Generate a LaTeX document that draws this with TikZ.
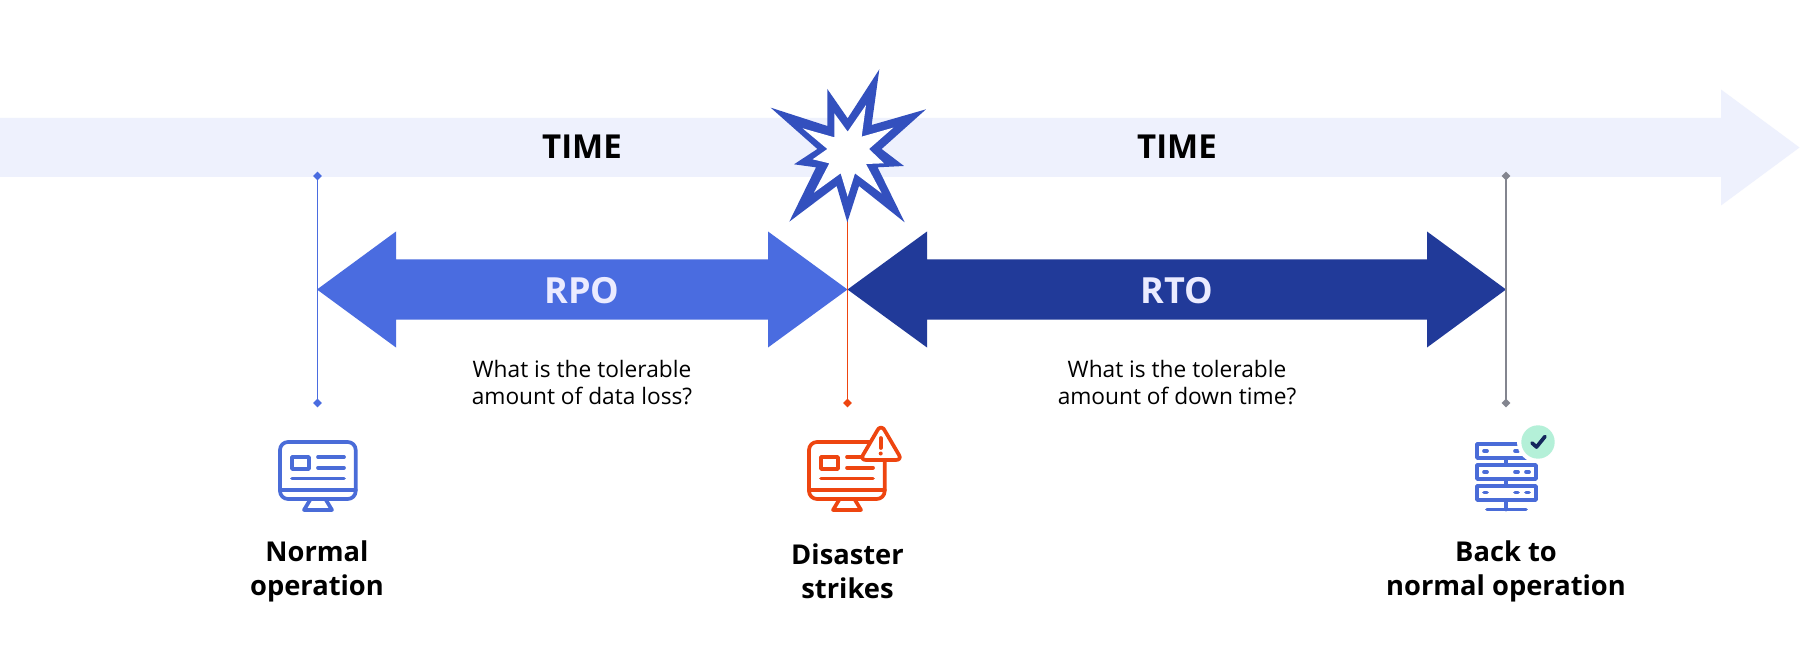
\documentclass[tikz,border=0pt]{standalone}
\usepackage{fontspec}
\setmainfont{Open Sans}
\usetikzlibrary{shapes.geometric}
\definecolor{band}{HTML}{EEF1FD}
\definecolor{rpo}{HTML}{4A6CE0}
\definecolor{rto}{HTML}{213A99}
\definecolor{burst}{HTML}{3350BE}
\definecolor{alert}{HTML}{EE4510}
\definecolor{iconblue}{HTML}{4A6CD8}
\definecolor{greyline}{HTML}{83858F}
\definecolor{okgreen}{HTML}{B4F0D8}
\definecolor{oknavy}{HTML}{14265C}
\tikzset{
  timelabel/.style={font=\fontsize{33}{36}\selectfont\bfseries,text=black,inner sep=0pt},
  arrowlabel/.style={font=\fontsize{36}{40}\selectfont\bfseries,text=white!92!blue,inner sep=0pt},
  question/.style={font=\fontsize{22.7}{27}\selectfont,text=black,align=center,inner sep=0pt},
  caption/.style={font=\fontsize{27.3}{34}\selectfont\bfseries,text=black,align=center,inner sep=0pt},
  tick/.style={diamond,fill=#1,minimum size=9pt,inner sep=0pt},
  iconline/.style={line width=3.7pt,line cap=round,line join=round,fill=none},
}
\newcommand{\monitoricon}[2]{%
  \begin{scope}[xshift=#1pt,iconline,draw=#2]
    \draw[rounded corners=8pt] (280,442) rectangle (355.7,499);
    \draw (280,490) -- (355.7,490);
    \draw (292,457) rectangle (309,469);
    \draw (318,457) -- (344,457);
    \draw (318,467.7) -- (344,467.7);
    \draw (292,478.5) -- (344,478.5);
    \draw (310,500) -- (304,510) -- (332,510) -- (326,500);
  \end{scope}}
\begin{document}
\begin{tikzpicture}[x=1pt,y=-1pt]
\useasboundingbox (0,0) rectangle (1801,668);
\fill[white] (0,0) rectangle (1801,668);
% time band
\fill[band] (0,118) -- (1721,118) -- (1721,89.5) -- (1799.5,147.5) -- (1721,205.5) -- (1721,177) -- (0,177) -- cycle;
% double arrows
\fill[rpo] (317,289.5) -- (396,231.5) -- (396,259.5) -- (768,259.5) -- (768,231.5) -- (847.5,289.5) -- (768,347.5) -- (768,319.5) -- (396,319.5) -- (396,347.5) -- cycle;
\fill[rto] (847.5,289.5) -- (927,231.5) -- (927,259.5) -- (1427,259.5) -- (1427,231.5) -- (1506,289.5) -- (1427,347.5) -- (1427,319.5) -- (927,319.5) -- (927,347.5) -- cycle;
% connectors
\node[tick=rpo] (nt) at (317.5,176) {};
\node[tick=rpo] (nb) at (317.5,403) {};
\draw[rpo,line width=1.8pt] (nt.center) -- (nb.center);
\coordinate (dt) at (847.5,221);
\node[tick=alert] (db) at (847.5,403) {};
\draw[alert,line width=1.8pt] (dt) -- (db.center);
\node[tick=greyline] (bt) at (1506,176) {};
\node[tick=greyline] (bb) at (1506,403) {};
\draw[greyline,line width=1.8pt] (bt.center) -- (bb.center);
% burst
\begin{scope}[shift={(740,50)},x=0.3333pt,y=-0.3333pt]
\fill[burst] (262,117) -- (323,205) -- (418,58) -- (395,225) -- (558,178) -- (425,297) -- (492,348) -- (413,352) -- (494,517) -- (357,408) -- (322,517) -- (290,408) -- (148,515) -- (228,352) -- (162,343) -- (232,297) -- (92,173) -- (262,228) -- cycle;
\fill[white] (378,165) -- (365,260) -- (460,233) -- (387,297) -- (432,340) -- (378,342) -- (425,430) -- (345,370) -- (323,440) -- (302,370) -- (222,428) -- (268,340) -- (218,328) -- (262,297) -- (188,235) -- (283,262) -- (283,190) -- (323,245) -- cycle;
\end{scope}
% labels
\node[timelabel] (t1) at (582,147) {TIME};
\node[timelabel] (t2) at (1177,147) {TIME};
\node[arrowlabel] (rpolabel) at (582,290.5) {RPO};
\node[arrowlabel] (rtolabel) at (1177,290.5) {RTO};
\node[question] (q1) at (582,383) {What is the tolerable\\amount of data loss?};
\node[question] (q2) at (1177,383) {What is the tolerable\\amount of down time?};
% icons
\monitoricon{0}{iconblue}
\monitoricon{529}{alert}
\draw[iconline,draw=alert,fill=white] (881,427.5) .. controls (883,427.5) and (884,429) .. (885,431) -- (899,455) .. controls (901,458) and (899,460) .. (896,460) -- (866,460) .. controls (863,460) and (861,458) .. (863,455) -- (877,431) .. controls (878,429) and (879,427.5) .. (881,427.5) -- cycle;
\draw[iconline,draw=alert] (880.7,438) -- (880.7,448);
\fill[alert] (880.7,453.5) circle (2);
% server icon
\begin{scope}[iconline,draw=iconblue]
\draw (1477,444) rectangle (1536,458);
\draw (1477,465) rectangle (1536,479);
\draw (1477,486) rectangle (1536,500);
\draw (1506,458) -- (1506,465);
\draw (1506,479) -- (1506,486);
\draw (1506,500) -- (1506,509.5);
\draw (1487,509.5) -- (1526,509.5);
\foreach \yy in {451,472,492.5}{
  \draw (1484,\yy) -- (1487,\yy);
  \draw (1515,\yy) -- (1518,\yy);
}
\foreach \yy in {472,492.5}{
  \draw (1526,\yy) -- (1529,\yy);
}
\end{scope}
\fill[white] (1538,442) circle (21);
\fill[okgreen] (1538,442) circle (16.7);
\draw[oknavy,line width=3.7pt,line cap=round,line join=round] (1532,443) -- (1536.5,447) -- (1545,436.5);
% captions
\node[caption] (c1) at (317,571.5) {Normal\\operation};
\node[caption] (c2) at (847.5,571.5) {Disaster\\strikes};
\node[caption] (c3) at (1506,571.5) {Back to\\normal operation};
\end{tikzpicture}
\end{document}
